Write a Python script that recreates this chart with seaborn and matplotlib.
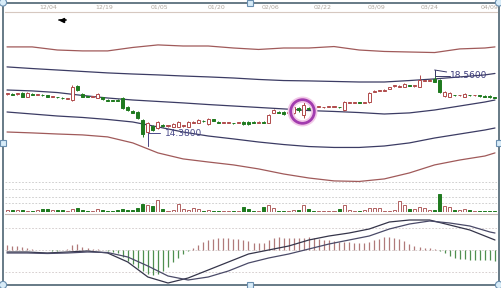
import matplotlib
matplotlib.use("Agg")
import matplotlib.pyplot as plt
import seaborn as sns
from matplotlib.patches import Circle, Rectangle

# ---------------- data ----------------
opens = [17.24, 17.24, 17.24, 17.30, 17.08, 17.24, 17.19, 17.19, 17.19, 17.10,
         17.08, 17.02, 16.97, 16.91, 17.68, 17.24, 17.10, 17.08, 17.02, 17.05,
         16.91, 16.88, 16.91, 17.02, 16.53, 16.31, 16.25, 15.81, 15.15, 15.48,
         15.37, 15.54, 15.48, 15.43, 15.43, 15.48, 15.43, 15.67, 15.65, 15.76,
         15.59, 15.84, 15.70, 15.65, 15.65, 15.65, 15.65, 15.70, 15.70, 15.70,
         15.67, 15.70, 15.65, 16.20, 16.25, 16.25, 16.20, 16.20, 16.47, 16.09,
         16.47, 16.55, 16.53, 16.50, 16.53, 16.53, 16.53, 16.36, 16.75, 16.75,
         16.77, 16.75, 16.80, 17.35, 17.41, 17.43, 17.52, 17.68, 17.65, 17.63,
         17.72, 17.68, 17.63, 17.96, 17.98, 18.07, 18.01, 17.13, 17.08, 17.19,
         17.16, 17.08, 17.19, 17.16, 17.16, 17.13, 17.13, 17.08]
closes = [17.24, 17.21, 17.27, 17.08, 17.30, 17.21, 17.19, 17.16, 17.10, 17.10,
          17.05, 17.00, 16.97, 17.63, 17.46, 17.08, 17.08, 17.08, 17.24, 16.94,
          16.88, 16.86, 16.86, 16.47, 16.36, 16.22, 15.92, 15.04, 15.65, 15.26,
          15.70, 15.48, 15.48, 15.59, 15.70, 15.48, 15.70, 15.70, 15.81, 15.73,
          15.87, 15.76, 15.67, 15.65, 15.67, 15.62, 15.65, 15.59, 15.59, 15.67,
          15.70, 15.67, 16.09, 16.36, 16.22, 16.14, 16.20, 16.53, 16.36, 16.64,
          16.42, 16.47, 16.53, 16.53, 16.55, 16.53, 16.50, 16.80, 16.75, 16.77,
          16.75, 16.77, 17.30, 17.41, 17.41, 17.46, 17.63, 17.68, 17.68, 17.79,
          17.70, 17.71, 18.01, 17.96, 18.01, 17.90, 17.35, 17.35, 17.30, 17.16,
          17.16, 17.24, 17.16, 17.16, 17.13, 17.10, 17.05, 17.02]
highs = [17.30, 17.27, 17.30, 17.33, 17.35, 17.27, 17.22, 17.22, 17.21, 17.13,
         17.10, 17.05, 17.00, 17.74, 17.74, 17.27, 17.13, 17.10, 17.27, 17.08,
         16.94, 16.91, 16.94, 17.05, 16.58, 16.36, 16.28, 15.87, 15.70, 15.54,
         15.76, 15.59, 15.51, 15.62, 15.73, 15.51, 15.76, 15.73, 15.84, 15.79,
         15.90, 15.87, 15.73, 15.67, 15.70, 15.67, 15.67, 15.73, 15.73, 15.73,
         15.73, 15.73, 16.14, 16.42, 16.28, 16.28, 16.22, 16.58, 16.53, 16.80,
         16.50, 16.58, 16.55, 16.55, 16.58, 16.55, 16.55, 16.86, 16.77, 16.80,
         16.80, 16.80, 17.35, 17.46, 17.43, 17.49, 17.65, 17.71, 17.71, 17.82,
         17.74, 17.74, 18.29, 17.99, 18.04, 18.56, 18.04, 17.38, 17.35, 17.21,
         17.19, 17.27, 17.21, 17.19, 17.19, 17.16, 17.16, 17.10]
lows = [17.19, 17.16, 17.21, 17.05, 17.05, 17.19, 17.16, 17.13, 17.08, 17.08,
        17.02, 16.97, 16.94, 16.86, 17.43, 17.05, 17.05, 17.05, 17.00, 16.91,
        16.86, 16.83, 16.83, 16.42, 16.33, 16.17, 15.87, 14.88, 14.38, 15.20,
        15.32, 15.43, 15.43, 15.40, 15.40, 15.43, 15.40, 15.62, 15.62, 15.70,
        15.56, 15.73, 15.65, 15.62, 15.62, 15.59, 15.62, 15.56, 15.56, 15.65,
        15.65, 15.64, 15.62, 16.17, 16.20, 16.11, 16.17, 16.14, 16.25, 15.92,
        16.36, 16.44, 16.50, 16.47, 16.50, 16.50, 16.47, 16.33, 16.72, 16.72,
        16.72, 16.72, 16.77, 17.33, 17.38, 17.41, 17.49, 17.65, 17.63, 17.60,
        17.68, 17.65, 17.60, 17.93, 17.96, 17.88, 17.30, 17.10, 17.05, 17.13,
        17.13, 17.05, 17.13, 17.13, 17.10, 17.08, 17.02, 17.00]
volumes = [2, 2, 2, 2, 1.5, 1.5, 2, 3.5, 3, 2,
           2.5, 2, 1.5, 3.5, 4.5, 2.5, 1.5, 1.5, 3, 2,
           1.5, 1, 2, 3, 2.5, 2.5, 4, 8, 7, 6.5,
           12, 3, 1.5, 2, 8, 3.5, 2, 4, 3, 1.5,
           2, 1.5, 1, 1.5, 1, 1.5, 1, 5, 3, 1.5,
           1.5, 5, 7, 4, 1, 1, 1.5, 2.5, 2, 7,
           3, 1.5, 1, 1, 1.5, 1, 3, 7, 2, 1.5,
           1.5, 2, 4.5, 4.5, 4.5, 1.5, 1.5, 2, 11, 7,
           3, 3.5, 5, 4, 2, 2, 18, 6, 5, 2,
           2.5, 3, 2, 1.5, 1.5, 1, 1.5, 1]
macd_hist = [0.05, 0.045, 0.04, 0.03, 0.02, 0.01, 0.005, 0.005, 0.0, -0.005,
             -0.005, 0.0, 0.01, 0.05, 0.06, 0.03, 0.02, 0.015, 0.01, 0.005,
             -0.01, -0.02, -0.03, -0.07, -0.11, -0.14, -0.18, -0.21, -0.24, -0.25,
             -0.24, -0.21, -0.17, -0.12, -0.08, -0.04, -0.01, 0.02, 0.05, 0.08,
             0.10, 0.11, 0.12, 0.12, 0.12, 0.11, 0.11, 0.10, 0.09, 0.07,
             0.07, 0.07, 0.10, 0.12, 0.13, 0.12, 0.12, 0.12, 0.12, 0.12,
             0.13, 0.12, 0.11, 0.10, 0.10, 0.09, 0.08, 0.08, 0.08, 0.07,
             0.07, 0.07, 0.08, 0.10, 0.11, 0.13, 0.13, 0.12, 0.11, 0.09,
             0.06, 0.04, 0.03, 0.02, 0.02, 0.01, -0.01, -0.03, -0.06, -0.08,
             -0.09, -0.09, -0.10, -0.10, -0.10, -0.10, -0.10, -0.11]

band_idx = [0, 5, 10, 15, 20, 25, 30, 35, 40, 45, 50, 55, 60, 65, 70, 75, 80, 85, 90, 95, 97]
band_top = [19.83, 19.83, 19.66, 19.61, 19.61, 19.80, 19.94, 19.88, 19.88, 19.77, 19.69,
            19.77, 19.77, 19.85, 19.66, 19.58, 19.55, 19.52, 19.72, 19.77, 19.83]
band_upper = [18.73, 18.64, 18.56, 18.48, 18.40, 18.34, 18.29, 18.23, 18.18, 18.12, 18.04,
              17.98, 17.96, 17.93, 17.90, 17.90, 17.98, 18.07, 18.18, 18.29, 18.37]
band_mid = [17.46, 17.41, 17.32, 17.16, 17.02, 16.91, 16.83, 16.75, 16.66, 16.58, 16.50,
            16.42, 16.33, 16.28, 16.22, 16.14, 16.20, 16.36, 16.58, 16.80, 16.91]
band_lower = [16.25, 16.14, 16.03, 15.95, 15.84, 15.70, 15.43, 15.15, 14.93, 14.77, 14.60,
              14.46, 14.35, 14.30, 14.30, 14.38, 14.55, 14.82, 15.04, 15.26, 15.37]
band_bottom = [15.15, 15.10, 15.04, 14.99, 14.88, 14.55, 14.00, 13.67, 13.50, 13.34, 13.12,
               12.84, 12.62, 12.46, 12.43, 12.57, 12.90, 13.34, 13.61, 13.83, 14.00]

macd_idx = [0, 4, 8, 12, 16, 20, 24, 28, 32, 36, 40, 44, 48, 52, 56, 60, 64, 68, 72,
            76, 80, 84, 88, 92, 96, 97]
dif = [-0.02, -0.02, -0.03, -0.02, -0.01, -0.03, -0.12, -0.27, -0.33, -0.28, -0.20, -0.12,
       -0.04, 0.00, 0.04, 0.10, 0.14, 0.17, 0.21, 0.28, 0.30, 0.30, 0.25, 0.20, 0.12, 0.10]
dea = [-0.03, -0.03, -0.035, -0.03, -0.02, -0.025, -0.07, -0.16, -0.26, -0.30, -0.27, -0.21,
       -0.13, -0.08, -0.04, 0.01, 0.06, 0.10, 0.14, 0.21, 0.26, 0.29, 0.27, 0.24, 0.18, 0.17]

date_tick_idx = [8.2, 19.3, 30.2, 41.6, 52.3, 62.8, 73.5, 84, 96]
date_labels = ["12/04", "12/19", "01/05", "01/20", "02/06", "02/22", "03/09", "03/24", "04/09"]
low_idx, high_idx = 28, 85

# ---------------- styling ----------------
sns.set_theme(style="white")
plt.rcParams['font.family'] = ['DejaVu Sans']

RED_LINE = "#a05a5a"
BLUE_LINE = "#3c3c64"
UP = "#b04a4a"
DOWN = "#1f7a1f"

W, H = 502, 288
fig = plt.figure(figsize=(W / 100, H / 100), dpi=100)
fig.patch.set_facecolor("white")

def fax(px_left, px_top, px_right, px_bottom):
    return fig.add_axes([px_left / W, 1 - px_bottom / H, (px_right - px_left) / W,
                         (px_bottom - px_top) / H])

xlim = (-0.4, 97.4)

# ---------------- volume panel ----------------
axv = fax(5, 180, 497, 212)
axv.patch.set_alpha(0)
for g in [9, 15, 23, 30]:
    axv.axhline(g, color="#c8c8c8", lw=0.6, ls=(0, (2, 2)), zorder=1)
for i, v in enumerate(volumes):
    up = closes[i] >= opens[i]
    axv.bar(i, v, width=0.6, bottom=0,
            facecolor="white" if up else DOWN,
            edgecolor="#b06060" if up else DOWN, lw=0.7, zorder=3)
axv.set_xlim(*xlim)
axv.set_ylim(0, 32)
axv.axis("off")

# ---------------- price panel ----------------
ax = fax(5, 12, 497, 184)
ax.patch.set_alpha(0)
for vals, col in [(band_top, RED_LINE), (band_upper, BLUE_LINE), (band_mid, BLUE_LINE),
                  (band_lower, BLUE_LINE), (band_bottom, RED_LINE)]:
    sns.lineplot(x=band_idx, y=vals, ax=ax, color=col, lw=0.9, zorder=2)

for i in range(len(opens)):
    o, c, h, l = opens[i], closes[i], highs[i], lows[i]
    up = c >= o
    col = UP if up else DOWN
    ax.vlines(i, l, h, color=col, lw=0.7, zorder=3)
    body = max(abs(c - o), 0.03)
    ax.bar(i, body, width=0.6, bottom=min(o, c),
           facecolor="white" if up else DOWN, edgecolor=col, lw=0.7, zorder=4)

# circle highlight
ax.plot([58.6], [16.33], marker="o", ms=17, mfc="none", mec="#f2c8e8", mew=4.5, zorder=5)
ax.plot([58.6], [16.33], marker="o", ms=17, mfc="none", mec="#a23cae", mew=2, zorder=6)

# low / high annotations
ax.annotate(f"{lows[low_idx]:.4f}", xy=(low_idx, lows[low_idx]), xytext=(12, 9),
            textcoords="offset points", fontsize=6.5, color="#4a4a8a", va="center",
            arrowprops=dict(arrowstyle="-", color="#4a4a8a", lw=0.7,
                            connectionstyle="angle,angleA=0,angleB=90,rad=0",
                            shrinkA=1, shrinkB=0), zorder=7)
ax.annotate(f"{highs[high_idx]:.4f}", xy=(high_idx, highs[high_idx]), xytext=(11, -4),
            textcoords="offset points", fontsize=6.5, color="#3a3a7a", va="center",
            arrowprops=dict(arrowstyle="-", color="#3a3a6a", lw=0.7,
                            shrinkA=0, shrinkB=0), zorder=7)
ax.annotate("", xy=(high_idx, highs[high_idx]), xytext=(11, -4),
            textcoords="offset points",
            arrowprops=dict(arrowstyle="-", color="#3a3a6a", lw=0.7,
                            connectionstyle="angle,angleA=180,angleB=90,rad=0",
                            shrinkA=0, shrinkB=0))

ax.set_xlim(*xlim)
ax.set_ylim(12.29, 21.75)
ax.xaxis.set_ticks_position("top")
ax.set_xticks(date_tick_idx)
ax.set_xticklabels(date_labels)
ax.tick_params(axis="x", length=0, labelsize=4.5, colors="#b0a8a0", pad=1.5)
ax.set_yticks([])
for s in ["left", "right", "bottom"]:
    ax.spines[s].set_visible(False)
ax.spines["top"].set_color("#d6c8c0")
ax.spines["top"].set_linewidth(0.8)

# ---------------- MACD panel ----------------
axm = fax(5, 214, 497, 284)
axm.patch.set_alpha(0)
for g in [0.22, 0.0, -0.22]:
    axm.axhline(g, color="#d0c8c8", lw=0.6, ls=(0, (2, 2)), zorder=1)
for i, v in enumerate(macd_hist):
    axm.vlines(i, 0, v, color="#b07a7a" if v >= 0 else "#4f8f4f", lw=0.9, zorder=2)
sns.lineplot(x=macd_idx, y=dif, ax=axm, color="#35354a", lw=0.9, zorder=3)
sns.lineplot(x=macd_idx, y=dea, ax=axm, color="#4a4a68", lw=0.9, zorder=3)
axm.set_xlim(*xlim)
axm.set_ylim(-0.34, 0.36)
axm.set_xticks([])
axm.set_yticks([])
for s in ["left", "right", "bottom"]:
    axm.spines[s].set_visible(False)
axm.spines["top"].set_color("#c8b8b4")
axm.spines["top"].set_linewidth(0.8)

# ---------------- frame overlay ----------------
ov = fig.add_axes([0, 0, 1, 1])
ov.patch.set_alpha(0)
ov.set_xlim(0, W)
ov.set_ylim(H, 0)
ov.axis("off")
ov.add_patch(Rectangle((3, 2.5), 496, 282.5, fill=False, edgecolor="#5b6f7d", lw=1.3))
for (cx, cy) in [(3, 2.5), (499, 2.5), (3, 285), (499, 285)]:
    ov.add_patch(Circle((cx, cy), 3.6, facecolor="#d8ecf8", edgecolor="#6a8fb0", lw=0.8, zorder=5))
for (cx, cy) in [(250, 2.5), (250, 285), (3, 143), (499, 143)]:
    ov.add_patch(Rectangle((cx - 3, cy - 3), 6, 6, facecolor="#d8ecf8", edgecolor="#6a8fb0",
                           lw=0.8, zorder=5))
ov.plot([62], [20], marker="<", ms=3, color="black")
ov.plot([59, 66], [20, 20], color="black", lw=1.2)

fig.savefig("out.png", dpi=100)
